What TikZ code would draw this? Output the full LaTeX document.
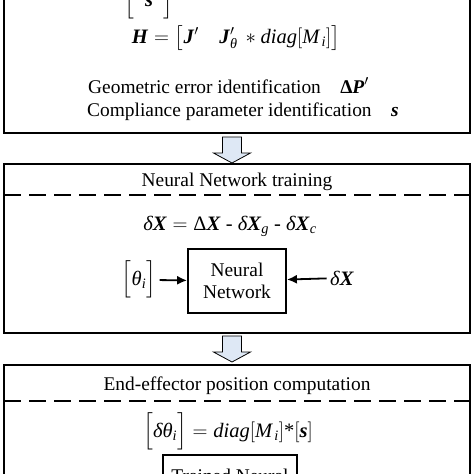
\documentclass[tikz,border=0pt]{standalone}
\usepackage{amsmath}
\usepackage{fontspec}
\setmainfont{Liberation Serif}
\usetikzlibrary{arrows.meta}
\newcommand{\bi}[1]{\textbf{\textit{#1}}}
\newcommand{\ti}[1]{\textit{#1}}
\definecolor{arrowfill}{RGB}{222,232,245}
\begin{document}
\begin{tikzpicture}[x=1pt,y=-1pt,
		font=\fontsize{19.4}{22}\selectfont,
		eqn/.style={anchor=base,font=\fontsize{20.5}{24}\selectfont},
		stage/.style={draw,line width=1.8pt},
		split/.style={dash pattern=on 17pt off 8pt,line width=1.2pt},
		nnbox/.style={draw,line width=1.8pt,align=center,minimum width=98pt,minimum height=64pt},
		feed/.style={-{Latex[length=10pt,width=9pt]},line width=1.8pt},
		blockarrow/.style={draw,fill=arrowfill,line width=0.8pt}]
		\useasboundingbox (0,0) rectangle (474,474);
		% stage frames
		\draw[stage] (4,-60) rectangle (470,133);
		\draw[stage] (4,164) rectangle (470,333);
		\draw[stage] (4,365) rectangle (470,530);
		\draw[split] (4,195) -- (470,195);
		\draw[split] (4,401) -- (470,401);
		% block arrows between stages
		\foreach \ay in {137,336}
			\draw[blockarrow] (222.5,\ay) -- (241.5,\ay) -- (241.5,\ay+16) -- (250.5,\ay+16)
				-- (232,\ay+26) -- (213.5,\ay+16) -- (222.5,\ay+16) -- cycle;
		% identification stage
		\node[eqn] (svec) at (149,6) {$\Bigl[\hspace{11pt}\bi{s}\hspace{11pt}\Bigr]$};
		\node[eqn] (heq) at (236,43) {$\bi{H} = \bigl[\bi{J}'\quad \bi{J}'_{\ti{θ}}\,* \ti{diag}[\ti{M}_{\,\ti{i}}]\bigr]$};
		\node[anchor=base west,inner sep=0pt] (geo) at (88,93) {Geometric error identification\quad \textbf{Δ}\bi{P}$'$};
		\node[anchor=base west,inner sep=0pt] (comp) at (87,116) {Compliance parameter identification\quad \bi{s}};
		% training stage
		\node[anchor=base] (train) at (237,186) {Neural Network training};
		\node[eqn] (dxeq) at (230,230) {$\ti{δ}\bi{X} = \text{Δ}\bi{X}\text{ - }\ti{δ}\bi{X}_{\ti{g}}\text{ - }\ti{δ}\bi{X}_{\ti{c}}$};
		\node[nnbox] (nn) at (237,281) {Neural\\Network};
		\node[eqn] (thetain) at (139,285) {$\Bigl[\ti{θ}_{\ti{i}}\Bigr]$};
		\node[eqn] (dxin) at (342,285) {\ti{δ}\bi{X}};
		\draw[feed] (thetain) -- (nn);
		\draw[feed] (dxin) -- (nn);
		% computation stage
		\node[anchor=base] (comptitle) at (237,390) {End-effector position computation};
		\node[eqn] (dtheq) at (228,437) {$\Bigl[\ti{δθ}_{\ti{i}}\Bigr] = \ti{diag}[\ti{M}_{\,\ti{i}}]\text{*}[\bi{s}]$};
		\node[draw,line width=1.8pt,anchor=north,minimum width=134pt,inner ysep=14pt,text depth=50pt] (tnn) at (230,454) {Trained Neural};
	\end{tikzpicture}
\end{document}
